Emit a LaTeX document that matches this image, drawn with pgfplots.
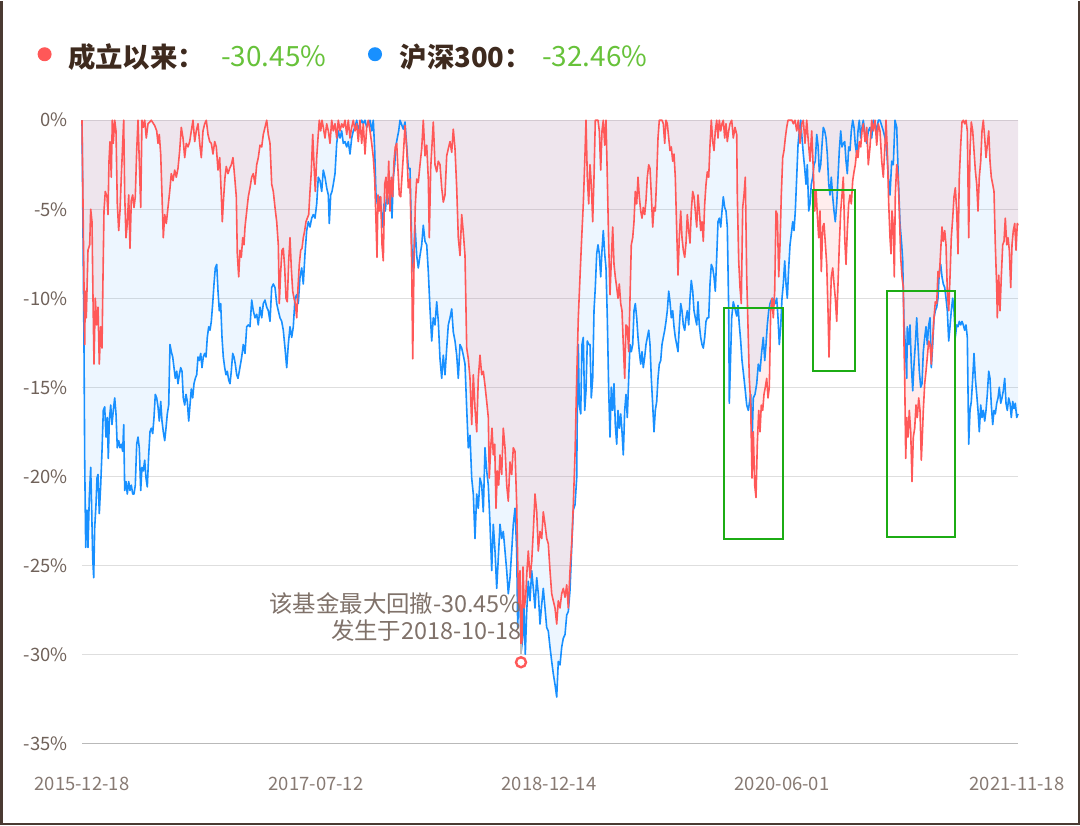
\documentclass[border=0pt]{standalone}
\usepackage{pgfplots}
\pgfplotsset{compat=1.18}
\usepackage{pgfplotstable}
\usepackage{fontspec}
\setmainfont{Noto Sans CJK SC}
\definecolor{redC}{RGB}{255,88,88}
\definecolor{blueC}{RGB}{24,144,255}
\definecolor{gridC}{RGB}{222,222,222}
\definecolor{ytickC}{RGB}{112,98,90}
\definecolor{xtickC}{RGB}{135,122,115}
\definecolor{legC}{RGB}{62,42,30}
\definecolor{valC}{RGB}{103,194,58}
\definecolor{annC}{RGB}{128,114,106}
\definecolor{boxC}{RGB}{28,172,20}
\definecolor{borderC}{RGB}{74,58,50}

\pgfplotstableread{
x y
0 0
2.7 -12.6
3.3 -9.6
4.3 -11.1
6 -7.3
7.7 -7.0
8.7 -5.0
10 -5.7
11 -10.0
12 -13.7
13.3 -10.0
14.7 -11.5
16 -10.5
17.3 -13.7
18.7 -11.6
20 -12.8
21 -8.8
22 -5.1
23.3 -4.0
25 -4.3
26 -5.3
27 -2.3
28 -1.2
29.3 -3.2
30.3 0
31.3 -1.3
32.7 0
34 -0.6
35.3 -4.7
36.7 -6.2
38 -5.1
39.3 -3.2
40.7 -1.3
41.7 0
42.7 -4.2
44 -6.6
45.3 -5.8
46.7 -4.2
48 -7.2
49.3 -4.5
50.7 -4.2
52 -4.9
53.3 -4.3
54.7 -1.7
56 0
57.3 -2.3
58.7 -4.9
60 0
61.3 -0.4
62.7 0
64.3 -1.0
66 -0.2
69.3 0
72.7 -0.3
74.7 -0.6
76 -1.3
77.3 -0.8
78.7 -1.9
80 -4.2
81.3 -6.6
82.7 -5.3
84.3 -5.8
86 -4.9
87.7 -4.0
89.3 -3.0
91 -3.4
92.7 -2.8
94.3 -3.2
96 -2.7
97.7 -1.7
99.3 -0.4
101 -1.0
102.7 -2.1
104.3 -1.3
106 -1.5
107.7 -1.2
109.3 -0.6
111 0
112.7 -1.2
114.3 -0.6
116 -0.2
117.7 -1.3
119.3 -2.1
121 -0.6
122.7 -0.2
124.3 0
126 -0.8
127.7 -1.2
129.3 -1.3
131 -1.9
132.7 -1.2
134.3 -1.5
136 -2.8
137.7 -2.1
139.3 -4.2
140.3 -5.7
141.7 -4.3
143 -3.2
144.3 -2.6
146 -3.0
147.7 -2.7
149.3 -2.5
151 -2.1
152.7 -3.2
154.3 -4.3
155.3 -7.5
156.7 -8.8
158 -7.3
159.3 -7.7
160.7 -6.6
162 -7.0
163 -6.0
166.3 -4.3
168 -3.8
169.7 -3.2
171.3 -3.0
173 -3.6
174.7 -2.5
176.3 -2.1
178 -1.4
179.7 -1.5
181.3 -0.8
183 -0.4
184.7 0
186.3 -0.8
188 -1.3
189.7 -3.6
191.3 -4.0
193 -4.9
194.7 -5.7
196.3 -7.0
197.3 -10.3
198.7 -8.5
200 -7.3
201.3 -7.2
202.7 -8.3
204 -10.0
205.3 -10.2
206.7 -7.9
208 -6.6
209.3 -8.3
210.7 -9.6
212 -10.0
213.3 -10.3
214.7 -11.1
216 -9.4
217.3 -8.1
218.7 -7.3
220 -7.2
221.3 -6.6
222.7 -6.2
224 -5.7
225.3 -5.5
226.7 -5.3
228 -4.0
229.3 -2.9
230.7 -0.8
232 -2.5
233.3 -4.0
234.7 -2.1
236 -1.0
237.3 0
238.7 -0.6
240 0
241.3 -0.4
243 -1.0
244.7 -0.2
246.3 -0.6
248 -1.3
249.7 0
251.3 -0.6
253 -0.2
254.7 -1.0
256.3 0
258 -0.6
259.7 -0.2
261.3 -0.4
263 0
264.7 -0.8
266.3 0
268 -1.0
269.7 -0.4
271.3 0
273 -0.6
274.7 -0.2
276.3 -1.2
278 0
279.7 -1.3
281.3 -0.2
283 -1.9
284.7 -0.4
286.3 0
288 -0.6
289.7 -1.3
291.3 -2.1
292.7 -3.3
294 -5.7
295 -7.7
296 -4.2
297.3 -5.1
298.7 -4.3
300 -7.0
301.3 -7.9
302.7 -3.6
304 -3.2
305.3 -4.7
306.7 -2.3
308 -5.1
309.3 -3.2
310.7 -4.3
312 -2.3
313.3 -1.5
314.7 -1.3
316 -2.8
317.3 -4.2
318.7 -4.3
321.3 -2.0
323 -0.3
324.7 -1.6
326.3 -3.8
328 -3.3
329.7 -8.1
330.7 -13.4
332 -8.1
333.3 -4.8
334.7 -3.3
336.3 -3.5
338 -2.5
339.7 -1.6
341.3 0
343 -2.0
344.7 -1.4
346.3 -3.3
347.3 -6.6
348.7 -2.7
350 -1.4
351.3 -0.1
353 -2.5
354.7 -2.9
356.3 -2.3
358 -2.5
359.7 -3.8
361.3 -4.6
363 -4.2
364.7 -2.0
366.3 -1.6
368 -1.2
369.7 -1.8
371.3 -0.5
373 -1.6
374.7 -3.8
376.3 -6.6
378 -7.6
379.7 -5.3
381.3 -6.3
383 -7.6
384.7 -12.8
386.3 -13.4
388 -14.5
389.7 -17.1
391.3 -14.3
393 -16.2
394.7 -17.5
396.3 -14.5
398 -13.2
399.7 -14.3
401.3 -14.1
403 -14.9
404.7 -15.8
406.3 -16.7
407.3 -20.1
408.7 -18.4
410 -17.3
411.3 -18.8
412.7 -18.2
414 -21.8
415.3 -19.7
416.7 -20.5
418 -18.8
419.7 -19.9
421.3 -17.3
423 -18.4
424.7 -20.5
426.3 -21.4
428 -19.2
429.7 -19.9
431.3 -18.4
433 -18.6
434.7 -21.6
435.7 -24.8
436.7 -27.4
438 -25.3
439 -29.6
440 -29.2
441 -25.1
442.3 -27.4
443.7 -26.8
445 -25.3
446.3 -24.2
448 -25.7
449.7 -24.8
451.3 -23.1
453 -21.0
454.7 -22.0
456.3 -24.2
458 -23.1
459.7 -23.5
461.3 -22.0
463 -22.7
464.7 -23.5
466.3 -23.8
468 -25.3
469.7 -26.6
471.3 -27.0
473 -27.4
474.7 -28.3
476.3 -27.0
478 -27.4
479.7 -26.6
481.3 -26.3
483 -26.8
484.7 -26.1
486.3 -27.4
488 -25.3
489.7 -23.8
491.3 -21.6
493 -18.8
494.7 -14.5
496.3 -11.1
498 -8.8
499.7 -6.6
501.3 -4.7
503 -1.9
504 0
505.3 -3.2
506.7 -4.7
508 -2.5
509.3 -3.6
510.7 -5.7
512 -3.2
513.3 0
514.7 0
516 0
517.3 -0.6
518.7 -2.8
520 -0.6
521.3 0
522.7 -1.4
524 0
525.3 -3.2
526.7 -7.0
528 -9.8
529.3 -7.9
530.7 -6.0
532 -8.1
533.3 -8.8
534.7 -9.4
536 -10.0
537.3 -9.2
538.7 -10.3
540 -10.7
541.3 -12.6
542.7 -14.5
544 -11.5
545.3 -11.6
546.7 -13.0
548 -10.0
549.3 -7.0
550.7 -6.6
552 -5.7
553.3 -4.0
554.7 -4.7
556 -3.2
557.3 -4.3
558.7 -5.1
560 -5.5
561.3 -4.9
562.7 -5.3
564 -4.5
565.3 -3.2
566.7 -2.5
568 -2.7
569.3 -4.2
570.7 -6.0
572 -4.9
573.3 -5.1
574.7 -3.2
576 -1.0
577.3 0
580 0
581.3 -0.2
582.7 -1.3
584 0
585.3 -0.2
586.7 -1.0
588 -1.7
589.3 -1.5
590.7 -2.3
592 -1.9
593.3 -3.2
594.7 -6.2
596 -8.7
597.3 -6.6
598.7 -5.1
600 -6.6
601.3 -7.3
602.7 -7.7
604 -6.9
605.3 -5.3
606.7 -6.2
608 -6.9
609.3 -5.1
610.7 -4.0
612 -4.3
613.3 -5.1
614.7 -6.0
616 -4.2
617.3 -5.1
618.7 -6.2
620 -5.7
621.3 -6.8
622.7 -4.7
624 -3.6
625.3 -2.9
626.7 -3.2
628 -1.4
629.3 0
630.7 -1.2
632 -1.7
633.3 -0.6
634.7 0
636 -1.0
637.3 0
638.7 -0.6
640 -0.2
641.3 0
642.7 -1.0
644 -0.2
645.3 -1.2
646.7 -0.6
648 -0.2
649.7 0
651.3 -1.0
653 -0.4
654.7 -0.8
655.3 -4.2
656.7 -7.9
658 -9.4
659.3 -10.3
660.7 -4.9
662 -4.2
663.3 -3.2
664.7 -8.8
666 -11.6
667.3 -14.5
668.7 -16.0
670 -20.1
671.3 -17.5
672.7 -20.5
674 -21.2
675.3 -18.2
676.7 -16.3
678 -17.5
679.3 -16.0
680.7 -16.3
682 -15.4
683.3 -15.0
684.7 -14.5
686 -15.6
687.3 -15.0
688.7 -10.7
690 -10.0
691.3 -11.1
692.7 -9.6
694 -5.1
695.3 -5.3
696.7 -8.8
698 -7.0
699.3 -4.2
700.7 -2.1
702 -1.7
703.3 -1.0
704.7 -0.4
706 0
710 0
711.3 -0.2
713 0
714.7 -0.6
716.3 0
718 -1.3
719.7 -0.2
721.3 0
723 -1.3
724.7 0
726.3 -1.2
728 -2.3
729.7 -0.6
731.3 -2.8
732.7 -5.1
734 -3.9
735.3 -5.3
736.7 -6.6
738 -5.1
739.3 -8.5
740.7 -6.0
742 -5.8
743.3 -6.9
744.7 -8.1
746 -10.7
747 -13.3
748 -11.1
749.3 -8.8
750.7 -8.3
752 -9.2
753.3 -10.0
754.7 -11.3
756 -9.2
757.3 -7.0
758.7 -5.1
760 -4.2
761.3 -3.2
762.7 -6.6
764 -8.1
765.3 -6.2
766.7 -4.7
768 -4.2
769.3 -4.7
770.7 -3.4
772 -2.9
773.3 -2.5
774.7 -1.7
776 -2.1
777.3 -1.2
778.7 -1.5
780 -0.6
781.3 -0.2
783 -1.2
784.7 -0.4
786.3 -2.5
788 -1.5
789.7 0
791.3 -0.6
793 0
794.7 -1.4
796.3 -0.2
798 -0.6
799.7 -2.3
801.3 -3.2
803 -1.4
804 0
805.3 -1.7
806.7 -4.7
808 -6.6
809 -7.5
810 -5.1
811.3 -6.0
812.3 -8.8
813.3 -4.2
814.7 -2.5
816 -3.2
817.3 -5.1
818.7 -7.7
820 -8.8
821.3 -9.4
822 -12.6
822.7 -14.5
823.7 -19.0
824.7 -16.7
826 -17.8
827.3 -16.3
828.7 -17.5
830 -20.3
831.3 -17.8
832.7 -17.3
834 -16.0
835.3 -16.7
836.7 -15.6
838 -16.3
839.3 -19.1
840.3 -17.8
841.3 -16.3
842.7 -14.8
844 -14.1
845.3 -13.3
846.7 -12.4
848 -12.6
849.3 -13.7
850.7 -12.2
852 -11.1
853.3 -10.2
854.7 -10.3
856 -8.5
857.3 -8.8
858.7 -7.3
860 -6.0
861.3 -6.8
862.7 -6.2
864 -7.0
865.3 -9.6
866.7 -10.7
868 -8.8
869.3 -6.6
870.7 -5.5
872 -4.3
873.3 -3.8
874.7 -5.1
876 -7.5
877.3 -3.2
878.7 -1.4
880 -0.1
881.3 0
882.7 -0.2
884 0
885.3 -0.6
886.7 -6.6
888 -1.7
889.3 -0.1
890.7 -0.6
892 -1.7
893.3 -2.8
894.7 -3.6
896 -5.1
897.3 -3.2
898.7 -2.3
900 -0.6
901.3 0
902.7 -1.0
904 -2.1
905.3 -1.4
906.7 -0.6
908 -2.3
909.3 -3.2
910.7 -3.6
912 -4.0
913.3 -7.0
914.7 -9.4
915.3 -11.1
916.7 -8.7
918 -10.7
919.3 -8.8
920.7 -7.0
922 -6.8
923.3 -5.5
924.7 -7.0
926 -6.6
927.3 -7.3
928.7 -9.4
930 -7.0
931.3 -6.2
932.7 -5.8
934 -7.3
935.3 -5.8
936 -5.9
}\redtab

\pgfplotstableread{
x y
0 0
2 -12.6
2.7 -19.1
3.7 -24.0
5 -21.9
6 -24.0
7.3 -21.2
8.7 -19.5
9.7 -21.9
10.7 -24.6
11.7 -25.7
12.7 -22.9
14 -21.6
15 -20.1
16 -19.9
17.3 -22.1
18.7 -20.5
20 -18.6
21.3 -16.3
22.7 -16.1
24 -17.8
25.3 -16.7
26.3 -19.0
27.3 -16.9
28.7 -16.0
30 -17.1
31.3 -16.3
32.7 -15.6
34 -16.5
35.3 -18.4
36.7 -18.0
38 -18.4
39.3 -18.2
40.7 -18.6
41.7 -17.1
42.7 -20.8
44 -20.3
45.3 -21.0
46.7 -20.3
48 -20.8
49.3 -20.5
50.7 -21.0
52 -21.0
53.3 -20.5
54.7 -18.2
56 -17.8
57.3 -18.4
58.7 -20.8
60 -19.5
61.3 -19.7
62.7 -19.1
64 -20.1
65.3 -20.6
66.7 -18.8
68 -17.5
69.3 -17.3
70.7 -17.6
72 -16.7
73.3 -15.4
74.7 -15.6
76 -16.1
77.3 -16.9
78.7 -15.8
80 -16.9
81.3 -17.5
82.7 -18.0
84 -17.3
85.3 -16.5
86.7 -16.0
88 -12.6
89.3 -13.0
90.7 -13.3
92 -13.9
93.3 -14.5
94.7 -14.1
96 -14.8
97.3 -14.3
98.7 -13.9
100 -14.1
101.3 -15.6
102.7 -16.0
104 -15.4
105.3 -15.8
106.7 -16.9
108 -16.0
109.3 -15.1
110.7 -15.6
112 -14.8
113.3 -14.5
114.7 -14.3
116 -13.3
117.3 -13.5
118.7 -13.1
120 -13.9
121.3 -13.3
122.7 -13.1
124 -13.3
125.3 -12.2
126.7 -11.6
128 -11.8
129.3 -11.3
130.7 -10.3
132 -9.2
133.3 -8.3
134.7 -8.1
136 -9.6
137.3 -10.7
138.7 -10.3
140 -12.2
141.3 -13.3
142.7 -13.9
144 -14.3
145.3 -14.1
146.7 -14.6
148 -14.8
149.3 -14.1
150.7 -13.1
152 -13.3
153.3 -13.7
154.7 -14.3
156 -14.5
157.3 -14.1
159.7 -13.3
161.3 -12.6
163 -13.1
164.7 -11.6
166.3 -11.5
168 -11.6
169.7 -10.1
171.3 -10.7
173 -11.1
174.7 -10.9
176.3 -11.5
178 -10.5
179.7 -11.1
181.3 -10.3
183 -10.1
184.7 -10.5
186.3 -10.7
188 -11.3
189.7 -9.4
191.3 -9.2
193 -9.4
194.7 -10.3
196.3 -10.7
198 -11.1
199.7 -11.3
201.3 -11.8
203 -12.8
204.7 -13.9
206.3 -12.6
208 -11.6
209.7 -12.2
211.3 -11.6
213 -10.0
214.7 -9.8
216.3 -10.3
218 -8.8
219.7 -8.3
221.3 -9.2
223 -7.5
224.7 -6.2
226.3 -5.7
228 -6.0
229.7 -5.5
231.3 -5.3
233 -5.5
234.7 -4.7
236.3 -3.2
238 -3.4
239.7 -4.0
241.3 -2.8
243 -3.2
244.7 -3.8
246.3 -4.2
247.3 -5.8
248.7 -4.2
250 -4.0
251.3 -3.6
253 -3.0
254.7 -1.3
256.3 -0.6
258 -1.0
259.7 -0.6
261.3 -1.3
263 -1.2
264.7 -1.5
266.3 -1.2
268 -1.9
269.7 -1.0
271.3 -0.6
273 -0.4
274.7 0
276.3 -0.6
278 -0.2
279.7 0
281.3 -0.2
283 0
284.7 -0.4
286.3 -0.2
288 0
289.7 -0.6
291.3 0
292.7 -1.7
294 -4.2
295.3 -4.7
296.7 -4.5
298 -4.3
299.3 -5.1
300.7 -6.0
302 -4.7
303.3 -5.1
304.7 -4.2
306 -4.7
307.3 -4.3
308.7 -4.0
310 -5.5
311.3 -3.2
312.7 -2.5
314 -1.4
315.3 -1.0
316.7 -0.6
318 0
321.3 -0.5
323 -0.1
326.3 -2.7
328 -2.7
329.7 -7.0
331.3 -8.5
333 -5.9
334.7 -7.6
336.3 -8.3
338 -7.6
339.7 -7.0
341.3 -5.9
343 -6.8
344.7 -7.0
346.3 -8.5
348 -10.6
349.7 -12.4
351.3 -11.1
353 -11.5
354.7 -10.2
356.3 -11.3
358 -13.4
359.7 -14.5
361.3 -13.2
363 -14.3
364.7 -12.8
366.3 -11.5
368 -11.1
369.7 -10.6
371.3 -11.9
373 -12.4
374.7 -13.2
376.3 -14.5
378 -12.6
379.7 -12.8
381.3 -13.2
383 -13.7
384.7 -16.2
386.3 -18.4
388 -17.7
389.7 -20.1
391.3 -21.0
393 -23.5
394.7 -21.0
396.3 -21.8
398 -20.1
399.7 -20.5
401.3 -22.0
403 -18.4
404.7 -19.7
406.3 -20.5
408 -22.7
409.7 -25.3
411.3 -22.7
413 -24.2
414.7 -26.3
416.3 -24.6
418 -22.7
419.7 -23.5
421.3 -23.1
423 -24.2
424.7 -25.3
426.3 -26.6
428 -25.7
429.7 -24.2
431.3 -22.7
433 -21.8
434.7 -24.2
435.7 -28.5
436.7 -26.6
438 -27.4
439.3 -29.8
440.7 -29.1
442 -27.4
443.3 -30.0
444.7 -27.6
446.3 -25.9
448 -27.0
449.7 -25.3
451.3 -26.3
453 -27.4
454.7 -25.7
456.3 -26.6
458 -28.3
459.7 -27.2
461.3 -26.3
463 -27.4
464.7 -28.5
466.3 -28.7
468 -29.6
469.7 -30.4
471.3 -31.1
473 -31.7
474.7 -32.4
476.3 -30.4
478 -30.6
479.7 -29.6
481.3 -29.1
483 -28.9
484.7 -27.8
486.3 -27.6
488 -26.4
489.7 -24.0
491.3 -21.9
493 -21.6
494.7 -20.1
495.3 -16.3
496.3 -12.6
497.3 -16.0
498.7 -16.5
500 -12.6
501.3 -12.2
502.7 -16.3
504 -15.2
505.3 -12.4
506.7 -12.6
508 -12.6
509.3 -15.6
510.7 -14.5
512 -10.7
513.3 -9.4
514.7 -7.5
516 -7.0
517.3 -7.5
518.7 -8.8
520 -7.3
521.3 -6.2
522.7 -7.5
524 -8.3
525.3 -11.1
526.7 -15.2
528 -17.8
529.3 -15.0
530.7 -16.3
532 -14.8
533.3 -17.1
534.7 -18.2
536 -16.3
537.3 -17.3
538.7 -16.5
540 -17.5
541.3 -18.8
542.7 -16.3
544 -15.4
545.3 -16.7
546.7 -14.5
548 -12.6
549.3 -13.0
550.7 -12.6
552 -10.7
553.3 -10.3
554.7 -11.1
556 -12.2
557.3 -13.0
558.7 -13.7
560 -13.0
561.3 -13.9
562.7 -13.3
564 -12.6
565.3 -12.2
566.7 -11.8
568 -12.6
569.3 -14.5
570.7 -16.0
572 -17.5
573.3 -16.3
574.7 -15.8
576 -14.5
577.3 -13.7
578.7 -13.5
580 -12.6
581.3 -12.2
582.7 -11.8
584 -11.3
585.3 -10.7
586.7 -9.6
588 -10.2
589.3 -11.1
590.7 -10.7
592 -11.6
593.3 -12.2
594.7 -12.6
596 -13.0
597.3 -11.6
598.7 -10.3
600 -10.7
601.3 -11.5
602.7 -11.8
604 -11.1
605.3 -10.7
606.7 -11.5
608 -10.0
609.3 -9.0
610.7 -9.6
612 -10.7
613.3 -11.1
614.7 -11.5
616 -10.2
617.3 -11.5
618.7 -12.2
620 -12.6
621.3 -12.8
622.7 -12.2
624 -11.3
625.3 -11.1
626.7 -11.1
628 -9.2
629.3 -8.1
630.7 -8.3
632 -8.8
633.3 -9.6
634.7 -7.7
636 -5.7
637.3 -5.5
638.7 -6.0
640 -5.1
641.3 -4.3
642.7 -4.9
644 -5.1
645.3 -6.0
646.7 -10.7
647.3 -15.9
649.7 -11.1
651.3 -10.2
653 -10.6
654.7 -11.0
656 -10.4
657.3 -11.5
658.7 -12.4
660 -13.5
662 -14.5
663.3 -15.2
664.7 -16.0
666.3 -16.3
668.7 -15.4
670 -18.2
671.3 -15.6
673 -15.4
674.7 -14.8
676.3 -13.7
678 -14.1
679.7 -13.0
681.3 -12.2
682.7 -13.5
684 -12.6
685.3 -11.5
686.7 -10.7
688 -10.3
689.3 -10.1
690.7 -10.0
692 -10.1
693.3 -10.3
694.7 -10.0
696 -11.1
697.3 -12.6
698.7 -11.6
700 -10.0
701.3 -9.2
702.7 -7.9
704 -9.2
705.3 -10.0
706.7 -8.3
708 -7.0
709.3 -6.4
710.7 -5.7
712 -6.2
713.3 -5.1
714.7 -3.2
716 -1.4
717.3 -0.6
718.7 0
720 -1.0
721.3 -1.9
722.7 -2.7
724 -3.6
725.3 -2.5
726.7 -5.1
728 -4.7
729.3 -3.6
730.7 -3.2
732 -2.5
733.3 -2.3
734.7 -0.8
736 -1.4
737.3 -2.9
738.7 -2.5
740 -1.4
741.3 -0.4
742.7 -0.6
744 -1.0
745.3 -1.9
746.7 -3.6
748 -4.2
749.3 -3.2
750.7 -4.3
752 -5.1
753.3 -5.7
754.7 -4.7
756 -3.2
757.3 -1.7
758.7 -0.6
760 -1.5
761.3 -1.3
762.7 -1.2
764 -2.3
765.3 -3.0
766.7 -1.5
768 -1.7
769.3 -0.6
770.7 0
772 -0.4
773.3 -1.4
774.7 -1.9
776 -0.6
777.3 0
778.7 -1.0
780 -0.4
781.3 0
783 -0.8
784.7 -1.3
786.3 -0.6
788 -0.4
789.7 -1.0
791.3 0
793 -0.2
794.7 -0.6
796.3 0
798 0
801.3 -0.6
803 -1.0
804.7 -1.7
806.3 -3.2
808 -4.2
809.7 -2.3
811.3 -2.5
813 0
814.7 -0.4
816.3 -3.2
818 -5.8
819.7 -7.0
820.7 -7.9
822 -11.5
823.3 -12.6
824.7 -14.5
825.3 -11.6
826.7 -12.6
828 -11.5
829.3 -13.7
830.7 -15.2
832 -13.7
833.3 -12.6
834.7 -11.1
836 -12.6
837.3 -14.1
838.7 -15.0
840 -14.8
841.3 -13.0
842.7 -12.2
844 -11.6
845.3 -12.6
846.7 -11.5
848 -11.1
849.3 -13.9
850.7 -12.6
852 -11.1
853.3 -10.7
854.7 -10.5
856 -10.0
857.3 -8.5
858.7 -8.1
860 -8.8
861.3 -9.2
862.7 -9.4
864 -10.0
865.3 -10.7
866.7 -12.4
868 -11.6
869.3 -10.7
870.7 -10.0
872 -10.7
873.3 -12.2
874.7 -11.5
876 -11.6
877.3 -11.3
878.7 -11.5
880 -11.3
881.3 -11.5
882.7 -11.8
884 -11.5
885.3 -12.2
886.7 -18.2
888 -16.3
889.3 -15.8
890.7 -14.5
892 -13.1
893.3 -14.5
894.7 -15.4
896 -16.3
897.3 -17.5
898.7 -16.0
900 -16.7
901.3 -16.3
902.7 -16.9
904 -16.3
905.3 -15.4
906.7 -14.1
908 -14.5
909.3 -16.0
910.7 -17.1
912 -16.3
913.3 -16.5
914.7 -15.9
916 -15.6
917.3 -15.0
918.7 -15.9
920 -15.6
921.3 -15.2
922.7 -14.5
924 -15.9
925.3 -16.3
926.7 -15.6
928 -15.9
929.3 -16.7
930.7 -15.8
932 -16.2
933.3 -15.9
934.7 -16.7
936 -16.5
}\bluetab

\begin{document}
\begin{tikzpicture}
\fill[white] (0,0) rectangle (1080bp,824bp);
\draw[borderC, line width=2.5bp] (1.25bp,824bp) -- (1.25bp,1.25bp) -- (1078.75bp,1.25bp) -- (1078.75bp,824bp);

% legend / header
\fill[redC] (44.6bp,771bp) circle (7bp);
\node[anchor=west, inner sep=0pt, text=legC, font=\fontsize{27.5}{32}\selectfont\bfseries] at (68bp,768bp) {成立以来：};
\node[anchor=west, inner sep=0pt, text=valC, font=\fontsize{28}{32}\selectfont] at (221bp,769bp) {-30.45\%};
\fill[blueC] (375bp,771bp) circle (7bp);
\node[anchor=west, inner sep=0pt, text=legC, font=\fontsize{27.5}{32}\selectfont\bfseries] at (399.6bp,768bp) {沪深300：};
\node[anchor=west, inner sep=0pt, text=valC, font=\fontsize{28}{32}\selectfont] at (542bp,769bp) {-32.46\%};

\begin{axis}[
  at={(82bp,82bp)}, anchor=south west, scale only axis,
  width=936bp, height=623bp,
  xmin=0, xmax=936, ymin=-35, ymax=0,
  axis line style={draw=none},
  major tick length=0pt,
  tick style={draw=none},
  ymajorgrids, grid style={gridC, line width=1.2bp},
  ytick={-35,-30,-25,-20,-15,-10,-5,0},
  yticklabels={-35\%,-30\%,-25\%,-20\%,-15\%,-10\%,-5\%,0\%},
  xtick={0,234,467,700,935},
  xticklabels={2015-12-18,2017-07-12,2018-12-14,2020-06-01,2021-11-18},
  tick label style={font=\fontsize{18.5}{21}\selectfont, inner sep=0pt},
  yticklabel style={anchor=east, xshift=-14bp, text=ytickC},
  xticklabel style={anchor=center, yshift=-41bp, text=xtickC},
  clip=false,
]
\addplot[draw=none, fill=blueC, fill opacity=0.074] table {\bluetab} \closedcycle;
\addplot[draw=none, fill=redC, fill opacity=0.10] table {\redtab} \closedcycle;
\draw[gray!55, line width=1.2bp] (axis cs:0,-35) -- (axis cs:936,-35);
\addplot[blueC, line width=1.6bp, line join=round] table {\bluetab};
\addplot[redC, line width=1.6bp, line join=round] table {\redtab};
\draw[boxC, line width=2bp] (axis cs:642.2,-10.55) rectangle (axis cs:700.8,-23.5);
\draw[boxC, line width=2bp] (axis cs:730.7,-3.9) rectangle (axis cs:773,-14.1);
\draw[boxC, line width=2bp] (axis cs:805.1,-9.6) rectangle (axis cs:873,-23.4);
\draw[gray!50, line width=2bp] (axis cs:439,-29.4) -- (axis cs:439,-30.0);
\addplot[only marks, mark=o, mark size=5bp, mark options={draw=redC, line width=2.4bp, fill=white}] coordinates {(439,-30.45)};
\end{axis}

\node[anchor=east, inner sep=0pt, text=annC, font=\fontsize{23.5}{27}\selectfont] at (521.7bp,222bp) {该基金最大回撤-30.45\%};
\node[anchor=east, inner sep=0pt, text=annC, font=\fontsize{23.5}{27}\selectfont] at (521.7bp,195bp) {发生于2018-10-18};
\end{tikzpicture}
\end{document}
